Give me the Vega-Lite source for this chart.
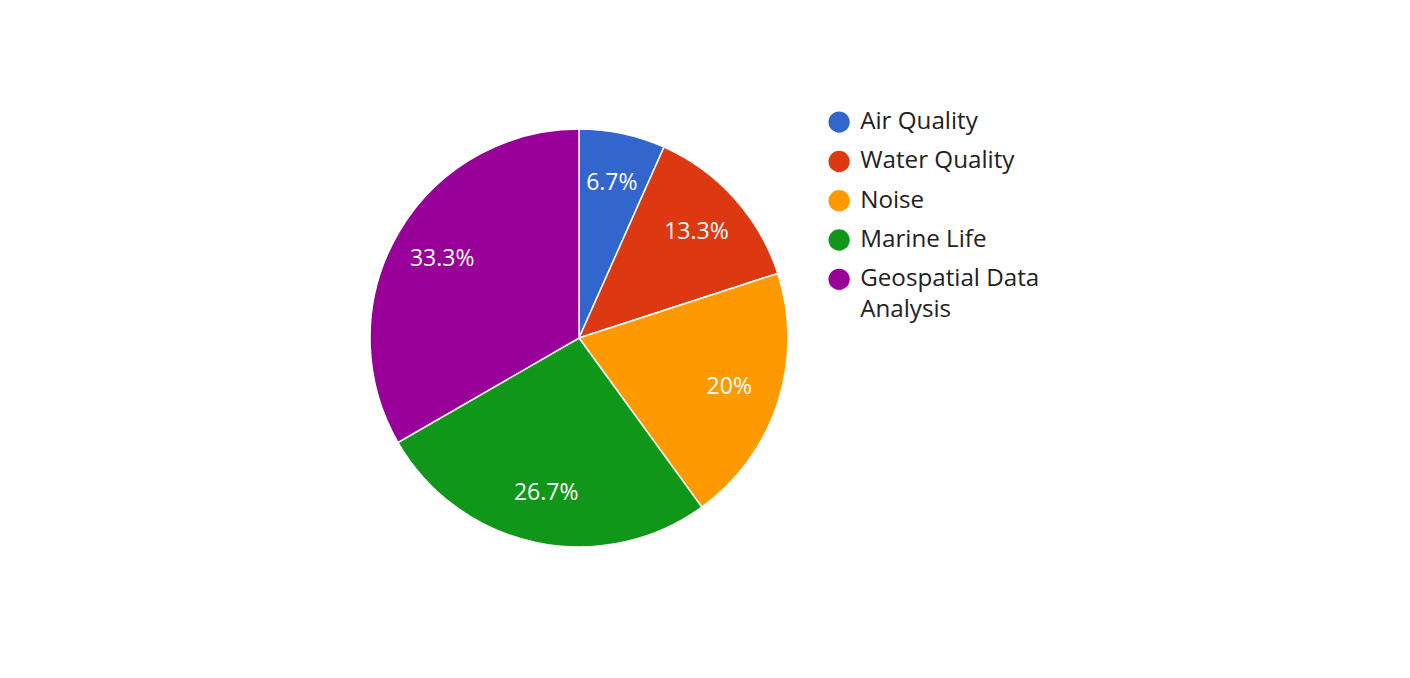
{
  "$schema": "https://vega.github.io/schema/vega-lite/v6.json",
  "autosize": "none",
  "width": 1158,
  "height": 676,
  "padding": 0,
  "background": "white",
  "config": {"view": {"stroke": null}, "style": {"guide-label": {"lineHeight": 31}}},
  "data": {"values": [
    {"topic": "Air Quality", "count": 1, "idx": 1, "pct": "6.7%"},
    {"topic": "Water Quality", "count": 2, "idx": 2, "pct": "13.3%"},
    {"topic": "Noise", "count": 3, "idx": 3, "pct": "20%"},
    {"topic": "Marine Life", "count": 4, "idx": 4, "pct": "26.7%"},
    {"topic": "Geospatial Data Analysis", "count": 5, "idx": 5, "pct": "33.3%"}
  ]},
  "encoding": {
    "theta": {"field": "count", "type": "quantitative", "stack": true},
    "order": {"field": "idx", "type": "quantitative"},
    "color": {
      "field": "topic", "type": "nominal",
      "scale": {
        "domain": ["Air Quality", "Water Quality", "Noise", "Marine Life", "Geospatial Data Analysis"],
        "range": ["#3366cc", "#dc3912", "#ff9900", "#109618", "#990099"]
      },
      "legend": {
        "orient": "none", "legendX": 827, "legendY": 110,
        "title": null, "padding": 0,
        "symbolType": "circle", "symbolSize": 452, "symbolStrokeWidth": 0,
        "labelFont": "Open Sans", "labelFontSize": 24.2, "labelColor": "#222222",
        "labelOffset": 9, "rowPadding": 14.3, "labelLimit": 400,
        "labelExpr": "datum.label == 'Geospatial Data Analysis' ? ['Geospatial Data', 'Analysis'] : datum.label"
      }
    }
  },
  "layer": [
    {"mark": {"type": "arc", "outerRadius": 209, "stroke": "white", "strokeWidth": 1.5}},
    {"mark": {"type": "text", "radius": 158, "font": "Open Sans", "fontSize": 23, "fill": "white"},
     "encoding": {"text": {"field": "pct", "type": "nominal"}}}
  ]
}
